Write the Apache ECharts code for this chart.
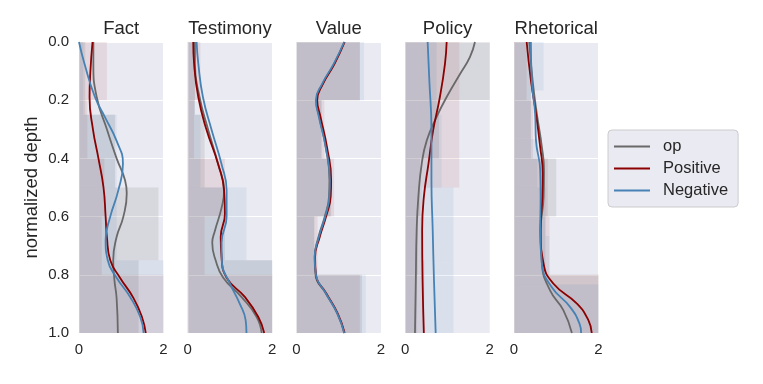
<!DOCTYPE html>
<html>
<head>
<meta charset="utf-8">
<script src="https://cdn.jsdelivr.net/npm/echarts@6/dist/echarts.min.js"></script>
<style>
  html, body { margin: 0; padding: 0; background: #fff; }
  #main { width: 763px; height: 384px; }
</style>
</head>
<body>
<div id="main"></div>
<script>
const panels = ['Fact', 'Testimony', 'Value', 'Policy', 'Rhetorical']
const seriesNames = ['op', 'Positive', 'Negative']
const lineColors = ['#696969', '#8b0000', '#4682b4']
const fillColors = ['rgba(105,105,105,0.15)', 'rgba(139,0,0,0.08)', 'rgba(70,130,180,0.10)']

// histogram bins per panel: [depth start, depth end, density]
const opHist = [
  [[0, 0.25, 0.15], [0.25, 0.5, 0.85], [0.5, 0.75, 1.88], [0.75, 1, 1.41]],
  [[0, 0.25, 0.17], [0.25, 0.5, 0.4], [0.5, 0.75, 0.88], [0.75, 1, 2.5]],
  [[0, 0.2, 1.5], [0.2, 0.4, 0.6], [0.4, 0.6, 0.82], [0.6, 0.8, 0.42], [0.8, 1, 1.55]],
  [[0, 0.2, 2.6], [0.2, 0.4, 0.8], [0.4, 0.6, 0.35], [0.6, 0.8, 0.3], [0.8, 1, 0.28]],
  [[0, 0.2, 0.4], [0.2, 0.4, 0.4], [0.4, 0.6, 1.0], [0.6, 0.8, 0.74], [0.8, 1, 2.0]]
]
const posHist = [
  [[0, 0.2, 0.66], [0.2, 0.4, 0.2], [0.4, 0.6, 0.6], [0.6, 0.8, 0.54], [0.8, 1, 2.4]],
  [[0, 0.2, 0.3], [0.2, 0.4, 0.15], [0.4, 0.6, 0.88], [0.6, 0.8, 0.4], [0.8, 1, 2.6]],
  [[0, 0.2, 1.5], [0.2, 0.4, 0.66], [0.4, 0.6, 0.89], [0.6, 0.8, 0.5], [0.8, 1, 1.5]],
  [[0, 0.25, 1.28], [0.25, 0.5, 1.28], [0.5, 0.75, 0.4], [0.75, 1, 0.45]],
  [[0, 0.2, 0.3], [0.2, 0.4, 0.45], [0.4, 0.6, 0.8], [0.6, 0.8, 0.84], [0.8, 1, 2.3]]
]
const negHist = [
  [[0, 0.25, 0.1], [0.25, 0.5, 0.89], [0.5, 0.75, 0.89], [0.75, 1, 2.1]],
  [[0, 0.25, 0.17], [0.25, 0.5, 0.3], [0.5, 0.75, 1.39], [0.75, 1, 2.1]],
  [[0, 0.2, 1.6], [0.2, 0.4, 0.58], [0.4, 0.6, 0.8], [0.6, 0.8, 0.42], [0.8, 1, 1.64]],
  [[0, 0.25, 0.74], [0.25, 0.5, 0.86], [0.5, 0.75, 1.14], [0.75, 1, 1.14]],
  [[0, 0.167, 0.7], [0.167, 0.333, 0.4], [0.333, 0.5, 0.55], [0.5, 0.667, 0.75], [0.667, 0.833, 0.84], [0.833, 1, 2.4]]
]

// kde curves per panel: [density, depth]
const opKde = [
  [[0.34, 0], [0.34, 0.074], [0.42, 0.19], [0.66, 0.3], [0.89, 0.4], [1.09, 0.475], [1.13, 0.52], [1.05, 0.6], [0.89, 0.67], [0.81, 0.75], [0.84, 0.82], [0.89, 0.88], [0.92, 1]],
  [[0.17, 0], [0.17, 0.075], [0.28, 0.19], [0.48, 0.3], [0.72, 0.42], [0.86, 0.51], [0.8, 0.57], [0.64, 0.65], [0.58, 0.69], [0.66, 0.75], [0.84, 0.81], [1.27, 0.876], [1.63, 0.945], [1.75, 1]],
  [[1.13, 0], [0.89, 0.075], [0.62, 0.143], [0.47, 0.2], [0.54, 0.258], [0.69, 0.36], [0.78, 0.475], [0.77, 0.53], [0.67, 0.6], [0.52, 0.67], [0.43, 0.74], [0.45, 0.8], [0.7, 0.865], [0.97, 0.934], [1.13, 1]],
  [[1.65, 0], [1.53, 0.052], [1.3, 0.109], [0.98, 0.189], [0.74, 0.258], [0.51, 0.338], [0.39, 0.418], [0.31, 0.533], [0.27, 0.647], [0.25, 0.819], [0.23, 1]],
  [[0.36, 0], [0.44, 0.132], [0.54, 0.246], [0.66, 0.361], [0.71, 0.441], [0.7, 0.533], [0.63, 0.647], [0.66, 0.762], [0.85, 0.853], [1.17, 0.922], [1.37, 1]]
]
const posKde = [
  [[0.32, 0], [0.27, 0.1], [0.25, 0.19], [0.33, 0.3], [0.46, 0.4], [0.58, 0.5], [0.63, 0.6], [0.66, 0.67], [0.74, 0.75], [0.97, 0.81], [1.29, 0.88], [1.49, 0.945], [1.58, 1]],
  [[0.13, 0], [0.15, 0.075], [0.25, 0.19], [0.44, 0.3], [0.72, 0.42], [0.86, 0.51], [0.88, 0.59], [0.78, 0.67], [0.8, 0.74], [0.92, 0.81], [1.35, 0.876], [1.67, 0.945], [1.81, 1]],
  [[1.14, 0], [0.9, 0.075], [0.63, 0.143], [0.49, 0.2], [0.57, 0.258], [0.72, 0.36], [0.82, 0.475], [0.81, 0.53], [0.7, 0.6], [0.55, 0.67], [0.44, 0.74], [0.46, 0.8], [0.71, 0.865], [0.98, 0.934], [1.14, 1]],
  [[0.98, 0], [0.94, 0.075], [0.82, 0.189], [0.66, 0.304], [0.55, 0.418], [0.44, 0.533], [0.4, 0.647], [0.41, 0.819], [0.44, 1]],
  [[0.3, 0], [0.4, 0.132], [0.52, 0.246], [0.62, 0.361], [0.68, 0.452], [0.67, 0.533], [0.63, 0.647], [0.7, 0.762], [0.93, 0.83], [1.49, 0.899], [1.76, 0.956], [1.84, 1]]
]
const negKde = [
  [[0, 0], [0.13, 0.075], [0.38, 0.19], [0.62, 0.26], [0.89, 0.34], [1.04, 0.418], [0.93, 0.51], [0.74, 0.6], [0.63, 0.68], [0.68, 0.75], [0.89, 0.81], [1.21, 0.876], [1.45, 0.945], [1.53, 1]],
  [[0.21, 0], [0.25, 0.075], [0.36, 0.19], [0.56, 0.3], [0.8, 0.42], [0.92, 0.51], [0.92, 0.6], [0.8, 0.69], [0.81, 0.76], [1.0, 0.83], [1.23, 0.899], [1.37, 0.956], [1.39, 1]],
  [[1.13, 0], [0.88, 0.075], [0.61, 0.143], [0.46, 0.2], [0.53, 0.258], [0.69, 0.36], [0.79, 0.475], [0.78, 0.53], [0.68, 0.6], [0.53, 0.67], [0.43, 0.74], [0.46, 0.8], [0.7, 0.865], [0.97, 0.934], [1.13, 1]],
  [[0.53, 0], [0.57, 0.132], [0.62, 0.304], [0.62, 0.476], [0.65, 0.647], [0.68, 0.819], [0.72, 1]],
  [[0.4, 0], [0.42, 0.132], [0.5, 0.246], [0.52, 0.338], [0.62, 0.441], [0.63, 0.533], [0.62, 0.647], [0.66, 0.762], [0.89, 0.842], [1.33, 0.911], [1.55, 0.968], [1.59, 1]]
]

const histSets = [opHist, posHist, negHist]
const kdeSets = [opKde, posKde, negKde]

const chart = echarts.init(document.getElementById('main'))

const panelLeft = 79
const panelStep = 108.75
const panelWidth = 84.5
const panelTop = 42
const panelHeight = 291
const font = '"Liberation Sans", Arial, sans-serif'
const textColor = '#262626'

const grids = []
const xAxes = []
const yAxes = []
const titles = []
const series = []

panels.forEach((name, i) => {
  const left = panelLeft + i * panelStep
  grids.push({
    left: left,
    top: panelTop,
    width: panelWidth,
    height: panelHeight,
    show: true,
    backgroundColor: '#eaeaf2',
    borderWidth: 0
  })
  titles.push({
    text: name,
    left: left + panelWidth / 2,
    top: 19,
    padding: 0,
    textAlign: 'center',
    textStyle: { fontFamily: font, fontSize: 18.5, fontWeight: 'normal', color: textColor }
  })
  xAxes.push({
    gridIndex: i,
    type: 'value',
    min: 0,
    max: 2,
    interval: 2,
    axisLine: { show: false },
    axisTick: { show: false },
    splitLine: { show: true, lineStyle: { color: '#fff', width: 1 } },
    axisLabel: { fontFamily: font, fontSize: 15, color: textColor, margin: 9 }
  })
  yAxes.push({
    gridIndex: i,
    type: 'value',
    inverse: true,
    min: 0,
    max: 1,
    interval: 0.2,
    name: i === 0 ? 'normalized depth' : '',
    nameLocation: 'middle',
    nameGap: 38,
    nameTextStyle: { fontFamily: font, fontSize: 18.5, color: textColor },
    axisLine: { show: false },
    axisTick: { show: false },
    splitLine: { show: true, lineStyle: { color: '#fff', width: 1 } },
    axisLabel: {
      show: i === 0,
      fontFamily: font,
      fontSize: 15,
      color: textColor,
      margin: 10,
      formatter: v => v.toFixed(1)
    }
  })

  histSets.forEach((set, k) => {
    series.push({
      type: 'custom',
      name: seriesNames[k] + ' hist',
      xAxisIndex: i,
      yAxisIndex: i,
      z: 1,
      silent: true,
      clip: true,
      encode: { x: 2, y: [0, 1] },
      data: set[i],
      renderItem: (params, api) => {
        const p0 = api.coord([0, api.value(0)])
        const p1 = api.coord([api.value(2), api.value(1)])
        const shape = echarts.graphic.clipRectByRect({
          x: p0[0],
          y: p0[1],
          width: p1[0] - p0[0],
          height: p1[1] - p0[1]
        }, {
          x: params.coordSys.x,
          y: params.coordSys.y,
          width: params.coordSys.width,
          height: params.coordSys.height
        })
        return shape && {
          type: 'rect',
          shape: shape,
          style: { fill: fillColors[k] }
        }
      }
    })
  })

  kdeSets.forEach((set, k) => {
    series.push({
      type: 'line',
      name: seriesNames[k],
      xAxisIndex: i,
      yAxisIndex: i,
      z: 3,
      data: set[i],
      smooth: 0.5,
      symbol: 'none',
      silent: true,
      color: lineColors[k],
      lineStyle: { color: lineColors[k], width: 1.8 }
    })
  })
})

const option = {
  animation: false,
  backgroundColor: '#fff',
  title: titles,
  grid: grids,
  xAxis: xAxes,
  yAxis: yAxes,
  legend: {
    data: seriesNames,
    orient: 'vertical',
    left: 608,
    top: 130,
    icon: 'rect',
    itemWidth: 36,
    itemHeight: 2,
    itemGap: 5,
    selectedMode: false,
    backgroundColor: '#eaeaf2',
    borderColor: '#cccccc',
    borderWidth: 1,
    borderRadius: 4,
    padding: [8, 10, 8, 6],
    textStyle: { fontFamily: font, fontSize: 16.5, color: textColor, padding: [0, 0, 0, 8] }
  },
  series: series
}

chart.setOption(option)
</script>
</body>
</html>
